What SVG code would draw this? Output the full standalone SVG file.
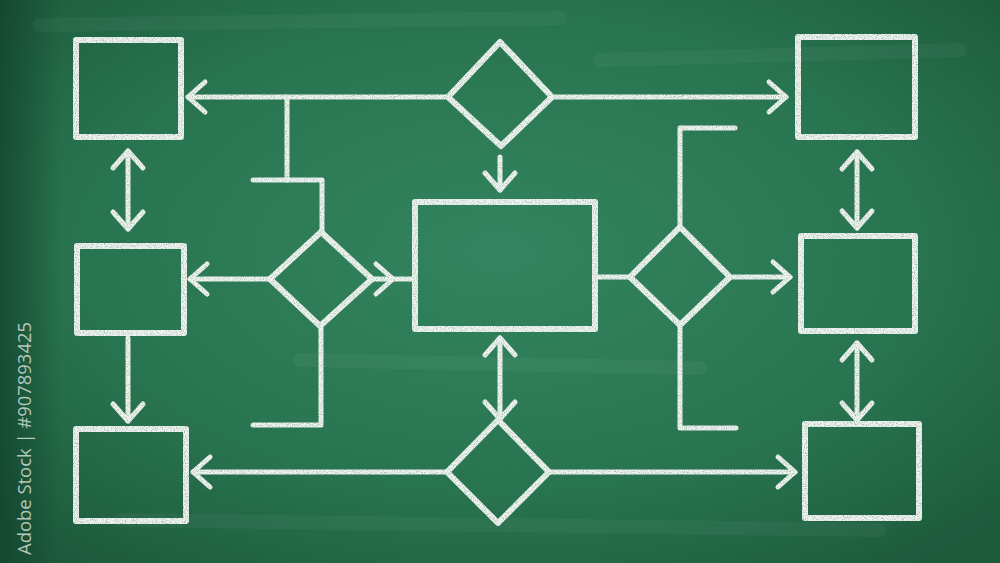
<svg xmlns="http://www.w3.org/2000/svg" width="1000" height="563" viewBox="0 0 1000 563">
  <defs>
    <radialGradient id="board" cx="50%" cy="45%" r="70%">
      <stop offset="0" stop-color="#338460"/>
      <stop offset="0.6" stop-color="#297450"/>
      <stop offset="1" stop-color="#1c5a3c"/>
    </radialGradient>
    <linearGradient id="leftEdge" x1="0" y1="0" x2="1" y2="0">
      <stop offset="0" stop-color="#10402a" stop-opacity="0.7"/>
      <stop offset="1" stop-color="#10402a" stop-opacity="0"/>
    </linearGradient>
    <filter id="chalk" x="-5%" y="-5%" width="110%" height="110%">
      <feTurbulence type="fractalNoise" baseFrequency="0.9" numOctaves="2" seed="3" result="n"/>
      <feColorMatrix in="n" type="matrix" values="0 0 0 0 1  0 0 0 0 1  0 0 0 0 1  0 0 0 -1.2 1.55" result="m"/>
      <feComposite in="SourceGraphic" in2="m" operator="in"/>
    </filter>
    <marker id="chev" markerUnits="userSpaceOnUse" viewBox="-22 -20 26 40" markerWidth="26" markerHeight="40" refX="0" refY="0" orient="auto-start-reverse" overflow="visible">
      <path d="M-17,-15 L0,0 L-17,15" fill="none" stroke="#f0f3f0" stroke-width="5" stroke-linecap="round" stroke-linejoin="round"/>
    </marker>
    <style>
      .box{fill:none;stroke:#f0f3f0;stroke-width:6;stroke-linejoin:round}
      .dia{fill:none;stroke:#f0f3f0;stroke-width:6;stroke-linejoin:round}
      .ln{fill:none;stroke:#f0f3f0;stroke-width:5;stroke-linecap:round;stroke-linejoin:round}
      .tag{font-family:"Open Sans","Liberation Sans",sans-serif;font-size:18px;fill:#d3ddd6;fill-opacity:0.85}
    </style>
  </defs>

  <rect x="0" y="0" width="1000" height="563" fill="url(#board)"/>
  <rect x="0" y="0" width="60" height="563" fill="url(#leftEdge)"/>
  <g opacity="0.035" stroke="#ffffff" stroke-width="14" stroke-linecap="round">
    <path d="M40,25 L560,18"/>
    <path d="M600,60 L960,50"/>
    <path d="M120,520 L880,530"/>
    <path d="M300,360 L700,368"/>
  </g>

  <g filter="url(#chalk)">
    <g id="connectors">
      <path class="ln" d="M448,97 H188" marker-end="url(#chev)"/>
      <path class="ln" d="M552,97 H786" marker-end="url(#chev)"/>
      <path class="ln" d="M287,97 V180"/>
      <path class="ln" d="M253,180 H322 V232"/>
      <path class="ln" d="M500,157 V190" marker-end="url(#chev)"/>
      <path class="ln" d="M270,279 H190" marker-end="url(#chev)"/>
      <path class="ln" d="M372,279 H393" marker-end="url(#chev)"/>
      <path class="ln" d="M393,279 H415"/>
      <path class="ln" d="M321,326 V425 H253"/>
      <path class="ln" d="M598,277 H630"/>
      <path class="ln" d="M730,277 H790" marker-end="url(#chev)"/>
      <path class="ln" d="M680,227 V128 H735"/>
      <path class="ln" d="M680,325 V428 H736"/>
      <path class="ln" d="M500,338 V419" marker-start="url(#chev)" marker-end="url(#chev)"/>
      <path class="ln" d="M447,472 H193" marker-end="url(#chev)"/>
      <path class="ln" d="M549,472 H795" marker-end="url(#chev)"/>
      <path class="ln" d="M128,151 V229" marker-start="url(#chev)" marker-end="url(#chev)"/>
      <path class="ln" d="M128,338 V421" marker-end="url(#chev)"/>
      <path class="ln" d="M857,152 V228" marker-start="url(#chev)" marker-end="url(#chev)"/>
      <path class="ln" d="M857,343 V420" marker-start="url(#chev)" marker-end="url(#chev)"/>
    </g>

    <g id="box-top-left"><rect class="box" x="76" y="40" width="105" height="97"/></g>
    <g id="box-top-right"><rect class="box" x="798" y="37" width="117" height="100"/></g>
    <g id="box-mid-left"><rect class="box" x="77" y="246" width="107" height="87"/></g>
    <g id="box-mid-right"><rect class="box" x="801" y="236" width="114" height="95"/></g>
    <g id="box-bottom-left"><rect class="box" x="76" y="429" width="110" height="92"/></g>
    <g id="box-bottom-right"><rect class="box" x="805" y="424" width="114" height="94"/></g>
    <g id="box-center"><rect class="box" x="415" y="202" width="180" height="127"/></g>

    <g id="diamond-top"><polygon class="dia" points="500,42 552,97 501,146 448,97"/></g>
    <g id="diamond-left"><polygon class="dia" points="321,232 372,279 320,326 270,279"/></g>
    <g id="diamond-right"><polygon class="dia" points="680,227 730,277 680,325 630,277"/></g>
    <g id="diamond-bottom"><polygon class="dia" points="498,420 549,472 498,523 447,472"/></g>
  </g>

  <text class="tag" transform="translate(31,555) rotate(-90)" x="0" y="0" textLength="233" lengthAdjust="spacingAndGlyphs">Adobe Stock | #907893425</text>
</svg>
